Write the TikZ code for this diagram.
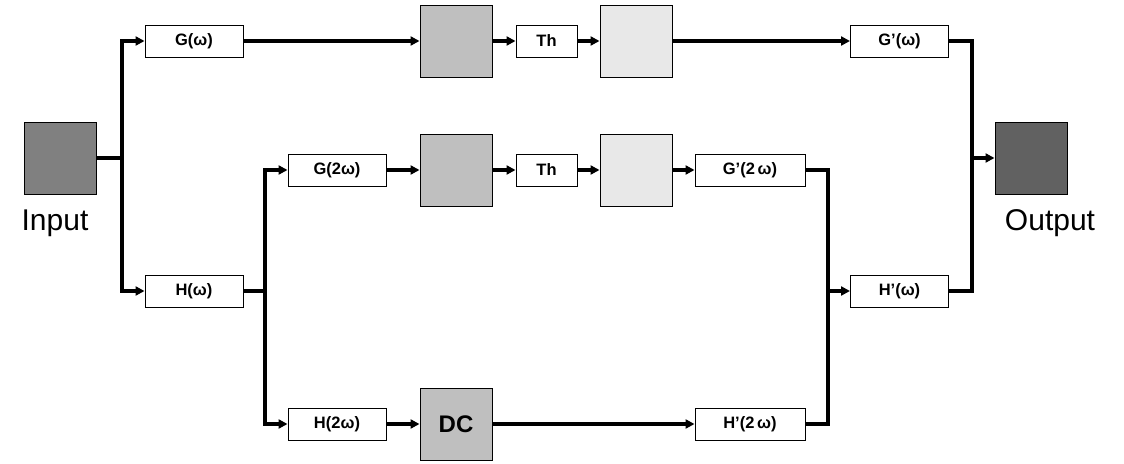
\documentclass[tikz,border=0pt]{standalone}
\usepackage{fontspec}
\setmainfont{Liberation Sans}
\usetikzlibrary{arrows.meta}
\begin{document}
\begin{tikzpicture}[x=1pt,y=-1pt,
  blk/.style={draw,line width=1pt,minimum width=98pt,minimum height=32pt,inner sep=0pt,font=\bfseries\fontsize{16.5}{16.5}\selectfont},
  sq/.style={draw,line width=1pt,minimum width=72pt,minimum height=72pt,inner sep=0pt},
  th/.style={blk,minimum width=61pt},
  ln/.style={line width=3.2pt},
  ar/.style={ln,-{Triangle[length=9pt,width=9pt]}},
  lab/.style={font=\fontsize{30}{30}\selectfont}]
\useasboundingbox (0,0) rectangle (1124,463);
\node[sq,fill=black!50] (in) at (60.5,158) {};
\node[lab] (inl) at (55,223) {Input};
\node[sq,fill=black!62] (out) at (1031,158) {};
\node[lab] (outl) at (1050,223) {Output};
% top row
\node[blk] (g) at (194,41) {G(ω)};
\node[sq,fill=black!25] (s1) at (456,41) {};
\node[th] (th1) at (546.5,41) {Th};
\node[sq,fill=black!9] (l1) at (636,41) {};
\node[blk] (gp) at (899.5,41) {G’(ω)};
% second row
\node[blk] (g2) at (337,170) {G(2ω)};
\node[sq,fill=black!25] (s2) at (456,170) {};
\node[th] (th2) at (546.5,170) {Th};
\node[sq,fill=black!9] (l2) at (636,170) {};
\node[blk,minimum width=110pt] (gp2) at (750,170) {G’(2\,ω)};
% H
\node[blk] (h) at (194,291) {H(ω)};
\node[blk] (hp) at (899.5,291) {H’(ω)};
% bottom
\node[blk] (h2) at (337,424) {H(2ω)};
\node[sq,fill=black!25,font=\bfseries\fontsize{24}{24}\selectfont] (dc) at (456,424) {DC};
\node[blk,minimum width=110pt] (hp2) at (750,424) {H’(2\,ω)};
% coordinates
\coordinate (j1) at (122,158);
\coordinate (j2) at (265,291);
\coordinate (j3) at (828,291);
\coordinate (j4) at (972,158);
\draw[ln] (in.east) -- (j1);
\draw[ar] (j1) |- (g.west);
\draw[ar] (j1) |- (h.west);
\draw[ar] (g.east) -- (s1.west);
\draw[ar] (s1.east) -- (th1.west);
\draw[ar] (th1.east) -- (l1.west);
\draw[ar] (l1.east) -- (gp.west);
\draw[ln] (h.east) -- (j2);
\draw[ar] (j2) |- (g2.west);
\draw[ar] (j2) |- (h2.west);
\draw[ar] (g2.east) -- (s2.west);
\draw[ar] (s2.east) -- (th2.west);
\draw[ar] (th2.east) -- (l2.west);
\draw[ar] (l2.east) -- (gp2.west);
\draw[ar] (h2.east) -- (dc.west);
\draw[ar] (dc.east) -- (hp2.west);
\draw[ln] (gp2.east) -| (j3);
\draw[ln] (hp2.east) -| (j3);
\draw[ar] (j3) -- (hp.west);
\draw[ln] (gp.east) -| (j4);
\draw[ln] (hp.east) -| (j4);
\draw[ar] (j4) -- (out.west);
\end{tikzpicture}
\end{document}
